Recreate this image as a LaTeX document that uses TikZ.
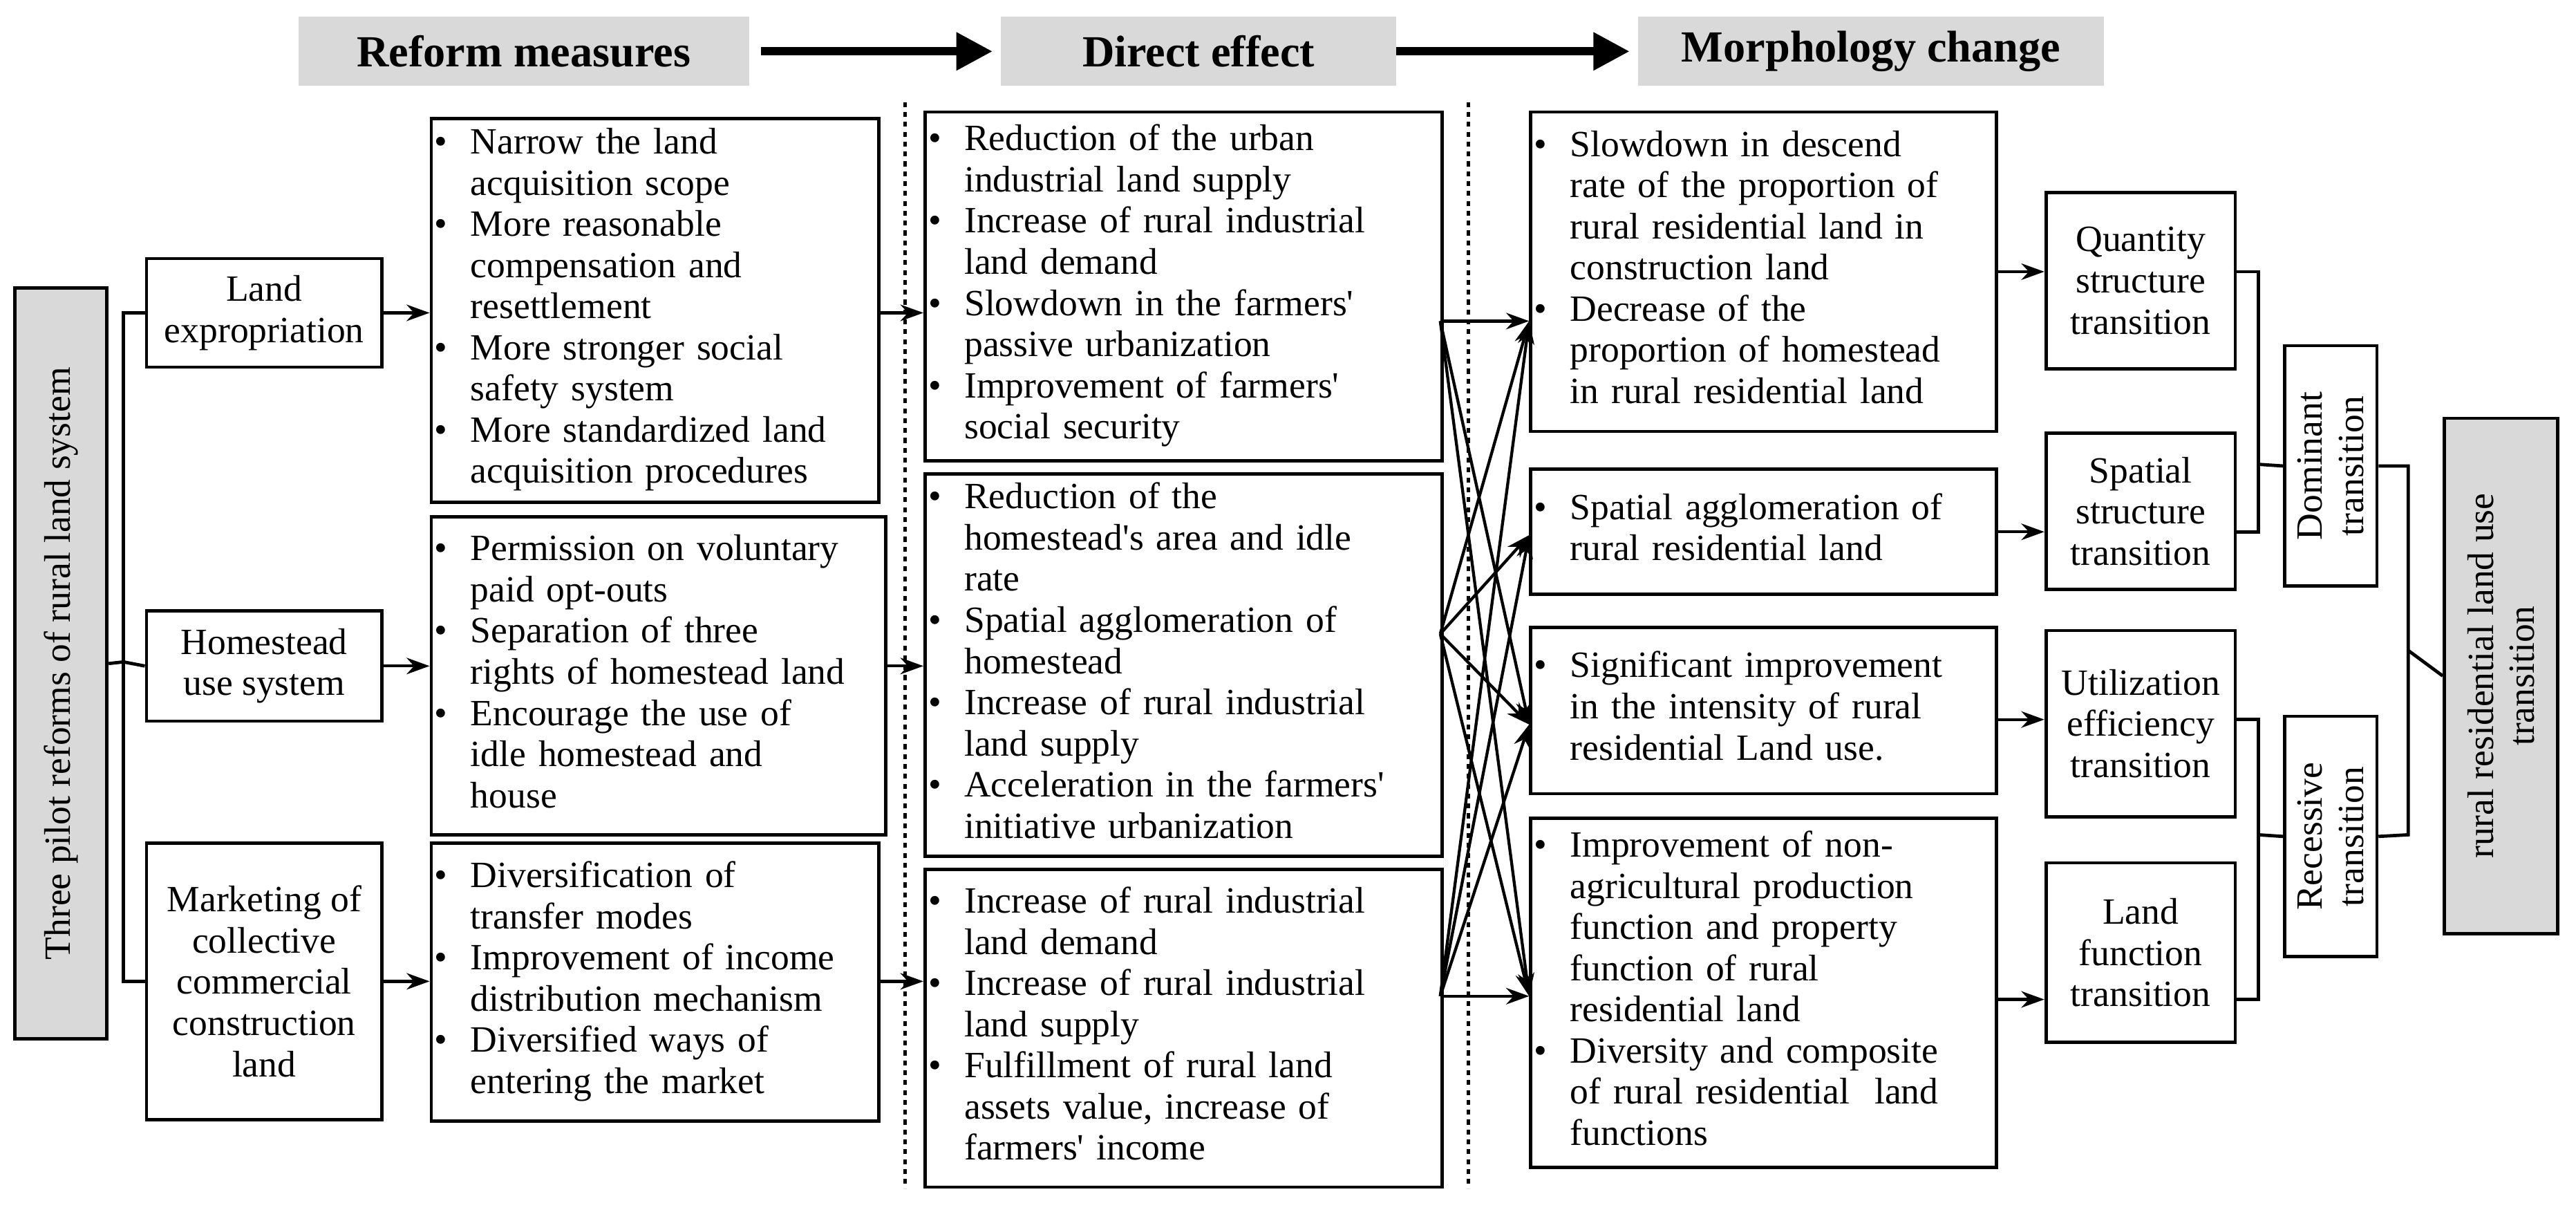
\documentclass[tikz,border=0pt]{standalone}
\usepackage{fontspec}
\setmainfont{Liberation Serif}
\usetikzlibrary{arrows.meta}
\newcommand{\bb}{\textbullet&}
\newcommand{\q}{\textquotesingle}
\begin{document}
\begin{tikzpicture}[x=1pt,y=-1pt,
 box/.style={draw,line width=2pt,anchor=north west,inner sep=2pt,font=\fontsize{22.5}{25}\selectfont},
 lbox/.style={box,text width=#1,align=left},
 gbox/.style={box,fill=gray!30},
 hdr/.style={fill=gray!30,anchor=north west,inner sep=0pt,font=\fontsize{27}{28}\selectfont\bfseries},
 arr/.style={line width=1.8pt,-{Stealth[length=14pt,width=10pt]}},
 big/.style={line width=5pt,-{Triangle[length=22pt,width=22pt]}},
 ln/.style={line width=2pt}]
\useasboundingbox (0,0) rectangle (1565,736);
\newcommand{\lst}[1]{\begin{tabular}{@{}l@{\hspace{14pt}}l@{}}#1\end{tabular}}
% headers
\node[hdr,minimum width=274pt,minimum height=42pt] (h1) at (181,10) {Reform measures};
\node[hdr,minimum width=240pt,minimum height=42pt] (h2) at (608,10) {Direct effect};
\node[hdr,minimum width=283pt,minimum height=42pt] (h3) at (995,10) {Morphology change};
\draw[big] (h1.east)++(7,0) -- ([xshift=-5pt]h2.west);
\draw[big] (h2.east) -- ([xshift=-5pt]h3.west);
% left
\node[gbox,minimum width=56pt,minimum height=456pt] (L) at (8,174) {};
\node[rotate=90,font=\fontsize{22.5}{25}\selectfont] at (L.center) {Three pilot reforms of rural land system};
\node[box,minimum width=143pt,minimum height=66pt,align=center] (a1) at (88,156) {Land\\expropriation};
\node[box,minimum width=143pt,minimum height=67pt,align=center] (a2) at (88,370) {Homestead\\use system};
\node[box,minimum width=143pt,minimum height=168pt,align=center] (a3) at (88,511) {Marketing of\\collective\\commercial\\construction\\land};
\draw[ln] (L.east) -- (75,402);
\draw[ln] (a1.west) -| (75,402) |- (a3.west);
\draw[ln] (75,402) -- (a2.west);
% column 3
\node[lbox=268pt,minimum height=233pt] (b1) at (261,71) {\lst{\bb Narrow the land\\& acquisition scope\\\bb More reasonable\\& compensation and\\& resettlement\\\bb More stronger social\\& safety system\\\bb More standardized land\\& acquisition procedures}};
\node[lbox=272pt,minimum height=193pt] (b2) at (261,313) {\lst{\bb Permission on voluntary\\& paid opt-outs\\\bb Separation of three\\& rights of homestead land\\\bb Encourage the use of\\& idle homestead and\\& house}};
\node[lbox=268pt,minimum height=169pt] (b3) at (261,511) {\lst{\bb Diversification of\\& transfer modes\\\bb Improvement of income\\& distribution mechanism\\\bb Diversified ways of\\& entering the market}};
\draw[arr] (a1.east) -- (b1.west|-a1.east);
\draw[arr] (a2.east) -- (b2.west|-a2.east);
\draw[arr] (a3.east) -- (b3.west|-a3.east);
% column 4
\node[lbox=310pt,minimum height=212pt] (c1) at (561,67) {\lst{\bb Reduction of the urban\\& industrial land supply\\\bb Increase of rural industrial\\& land demand\\\bb Slowdown in the farmers\q\\& passive urbanization\\\bb Improvement of farmers\q\\& social security}};
\node[lbox=310pt,minimum height=232pt] (c2) at (561,287) {\lst{\bb Reduction of the\\& homestead\q s area and idle\\& rate\\\bb Spatial agglomeration of\\& homestead\\\bb Increase of rural industrial\\& land supply\\\bb Acceleration in the farmers\q\\& initiative urbanization}};
\node[lbox=310pt,minimum height=193pt] (c3) at (561,527) {\lst{\bb Increase of rural industrial\\& land demand\\\bb Increase of rural industrial\\& land supply\\\bb Fulfillment of rural land\\& assets value, increase of\\& farmers\q\ income}};
\draw[arr] (b1.east|-a1.east) -- (c1.west|-a1.east);
\draw[arr] (b2.east|-a2.east) -- (c2.west|-a2.east);
\draw[arr] (b3.east|-a3.east) -- (c3.west|-a3.east);
\draw[ln,dashed] (550,62) -- (550,722);
\draw[ln,dashed] (892,62) -- (892,722);
% column 5
\node[lbox=279pt,minimum height=194pt] (d1) at (929,67) {\lst{\bb Slowdown in descend\\& rate of the proportion of\\& rural residential land in\\& construction land\\\bb Decrease of the\\& proportion of homestead\\& in rural residential land}};
\node[lbox=279pt,minimum height=76pt] (d2) at (929,284) {\lst{\bb Spatial agglomeration of\\& rural residential land}};
\node[lbox=279pt,minimum height=101pt] (d3) at (929,380) {\lst{\bb Significant improvement\\& in the intensity of rural\\& residential Land use.}};
\node[lbox=279pt,minimum height=212pt] (d4) at (929,496) {\lst{\bb Improvement of non-\\& agricultural production\\& function and property\\& function of rural\\& residential land\\\bb Diversity and composite\\& of rural residential\ \ land\\& functions}};
\coordinate (s1) at (875,195); \coordinate (s2) at (875,385); \coordinate (s3) at (875,605);
\coordinate (t1) at (929,195); \coordinate (t2) at (929,325); \coordinate (t3) at (929,440); \coordinate (t4) at (929,605);
\foreach \s/\t in {s1/t1,s1/t3,s1/t4,s2/t1,s2/t2,s2/t3,s2/t4,s3/t1,s3/t2,s3/t3,s3/t4}
  \draw[arr] (\s) -- (\t);
% column 6
\node[box,minimum width=115pt,minimum height=107pt,align=center] (e1) at (1242,116) {Quantity\\structure\\transition};
\node[box,minimum width=115pt,minimum height=95pt,align=center] (e2) at (1242,262) {Spatial\\structure\\transition};
\node[box,minimum width=115pt,minimum height=113pt,align=center] (e3) at (1242,382) {Utilization\\efficiency\\transition};
\node[box,minimum width=115pt,minimum height=109pt,align=center] (e4) at (1242,523) {Land\\function\\transition};
\draw[arr] (1212,165) -- (e1.west|-0,165);
\draw[arr] (1212,323) -- (e2.west|-0,323);
\draw[arr] (1212,437) -- (e3.west|-0,437);
\draw[arr] (1212,607) -- (e4.west|-0,607);
% column 7
\node[box,minimum width=56pt,minimum height=146pt] (f1) at (1387,209) {};
\node[rotate=90,font=\fontsize{22.5}{25}\selectfont,align=center] at (f1.center) {Dominant\\transition};
\node[box,minimum width=56pt,minimum height=146pt] (f2) at (1387,434) {};
\node[rotate=90,font=\fontsize{22.5}{25}\selectfont,align=center] at (f2.center) {Recessive\\transition};
\draw[ln] (1357,165) -| (1372,323) -- (1357,323);
\draw[ln] (1372,282) -- (f1.west);
\draw[ln] (1357,437) -| (1372,607) -- (1357,607);
\draw[ln] (1372,507) -- (f2.west);
\node[gbox,minimum width=69pt,minimum height=313pt] (g) at (1484,253) {};
\node[rotate=90,font=\fontsize{22.5}{25}\selectfont,align=center] at (g.center) {rural residential land use\\transition};
\draw[ln] (f1.east) -| (1463,507) -- (f2.east);
\draw[ln] (1463,395) -- (g.west);
\end{tikzpicture}
\end{document}
